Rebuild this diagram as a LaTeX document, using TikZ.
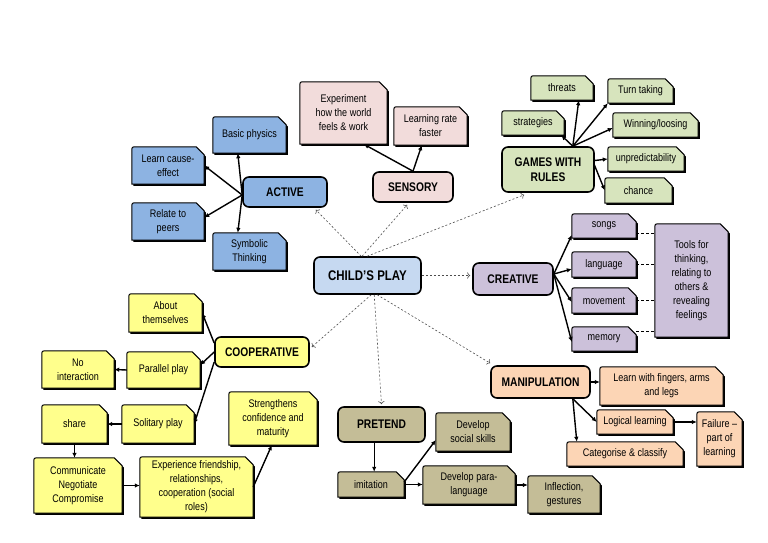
\documentclass[tikz,border=0pt]{standalone}
\usepackage{fontspec}
\setmainfont{Liberation Sans}[FakeStretch=0.82]
\usetikzlibrary{calc,arrows.meta}
\pgfdeclarelayer{background}
\pgfsetlayers{background,main}
\definecolor{cblue}{HTML}{8DB3E2}
\definecolor{clight}{HTML}{C6D9F1}
\definecolor{cpink}{HTML}{F2DCDB}
\definecolor{cgreen}{HTML}{D7E4BD}
\definecolor{cpurple}{HTML}{CCC1DA}
\definecolor{cyellow}{HTML}{FFFF8C}
\definecolor{ctan}{HTML}{C4BD97}
\definecolor{cpeach}{HTML}{FCD5B5}
\tikzset{
  leafnode/.style={inner sep=0pt, align=center, font=\fontsize{11}{14}\selectfont},
  catnode/.style={draw, line width=1.6pt, rounded corners=6pt, inner sep=0pt, align=center, font=\bfseries\fontsize{12.5}{15}\selectfont},
  arr/.style={line width=1.4pt, -{Latex[length=5pt,width=4.5pt]}},
  darr/.style={draw=black!70, line width=0.6pt, dash pattern=on 2pt off 2pt, -{To[length=3pt]}},
  tline/.style={line width=1pt, dash pattern=on 3pt off 2pt},
}
\newcommand\leafshape[2]{($(#1.south west)+(#2)$) -- ($(#1.north west)+(0,5)+(#2)$) .. controls ($(#1.north west)+(#2)$) .. ($(#1.north west)+(5,0)+(#2)$) -- ($(#1.north east)+(-8,0)+(#2)$) -- ($(#1.north east)+(0,8)+(#2)$) -- ($(#1.south east)+(#2)$) -- cycle}
\newcommand\leaf[7]{%
  \node[leafnode, minimum width={#4-#2}, minimum height={#5-#3}] (#1) at ({(#2+#4)/2},{(#3+#5)/2}) {#7};
  \begin{pgfonlayer}{background}
    \fill[black] \leafshape{#1}{1.6,1.6};
    \filldraw[fill=#6, line width=1pt] \leafshape{#1}{0,0};
  \end{pgfonlayer}}
\newcommand\cat[7]{%
  \node[catnode, fill=#6, minimum width={#4-#2}, minimum height={#5-#3}] (#1) at ({(#2+#4)/2},{(#3+#5)/2}) {#7};}
\begin{document}
\begin{tikzpicture}[x=1pt,y=-1pt]
\useasboundingbox (0,0) rectangle (768,543);
% ACTIVE
\leaf{bphys}{213}{117}{286}{153}{cblue}{Basic physics}
\leaf{cause}{132}{147}{204}{184}{cblue}{Learn cause-\\effect}
\leaf{peers}{132}{203}{204}{240}{cblue}{Relate to\\peers}
\leaf{symb}{213}{233}{286}{270}{cblue}{Symbolic\\Thinking}
\cat{active}{243}{177}{327}{207}{cblue}{ACTIVE}
% SENSORY
\leaf{exper}{300}{82}{387}{144}{cpink}{Experiment\\how the world\\feels \& work}
\leaf{lrate}{394}{107}{467}{145}{cpink}{Learning rate\\faster}
\cat{sensory}{373}{172}{453}{202}{cpink}{SENSORY}
% GAMES
\leaf{threats}{531}{76}{593}{100}{cgreen}{threats}
\leaf{turn}{608}{79}{673}{103}{cgreen}{Turn taking}
\leaf{strat}{502}{111}{564}{135}{cgreen}{strategies}
\leaf{win}{613}{113}{698}{137}{cgreen}{Winning/loosing}
\leaf{unpred}{608}{147}{684}{171}{cgreen}{unpredictability}
\leaf{chance}{605}{178}{672}{203}{cgreen}{chance}
\cat{games}{502}{147}{594}{192}{cgreen}{GAMES WITH\\RULES}
% CENTER
\node[catnode, fill=clight, font=\bfseries\fontsize{14}{16}\selectfont, minimum width=107, minimum height=37] (child) at (367.5,275.5) {CHILD'S PLAY};
% CREATIVE
\cat{creative}{473}{263}{553}{295}{cpurple}{CREATIVE}
\leaf{songs}{572}{214}{636}{238}{cpurple}{songs}
\leaf{lang}{572}{252}{636}{277}{cpurple}{language}
\leaf{move}{572}{288}{636}{313}{cpurple}{movement}
\leaf{memo}{572}{327}{636}{351}{cpurple}{memory}
\leaf{tools}{655}{224}{728}{337}{cpurple}{Tools for\\thinking,\\relating to\\others \&\\revealing\\feelings}
% COOPERATIVE
\cat{coop}{215}{337}{309}{367}{cyellow}{COOPERATIVE}
\leaf{about}{129}{294}{202}{332}{cyellow}{About\\themselves}
\leaf{noint}{42}{351}{114}{388}{cyellow}{No\\interaction}
\leaf{par}{127}{352}{200}{388}{cyellow}{Parallel play}
\leaf{share}{42}{405}{107}{443}{cyellow}{share}
\leaf{sol}{122}{405}{194}{443}{cyellow}{Solitary play}
\leaf{streng}{229}{392}{317}{445}{cyellow}{Strengthens\\confidence and\\maturity}
\leaf{comm}{34}{458}{122}{513}{cyellow}{Communicate\\Negotiate\\Compromise}
\leaf{exp}{140}{457}{253}{517}{cyellow}{Experience friendship,\\relationships,\\cooperation (social\\roles)}
% PRETEND
\cat{pretend}{338}{407}{425}{442}{ctan}{PRETEND}
\leaf{social}{436}{413}{510}{451}{ctan}{Develop\\social skills}
\leaf{imit}{338}{472}{404}{497}{ctan}{imitation}
\leaf{para}{423}{466}{515}{504}{ctan}{Develop para-\\language}
\leaf{infl}{528}{476}{600}{513}{ctan}{Inflection,\\gestures}
% MANIPULATION
\cat{manip}{491}{366}{590}{398}{cpeach}{MANIPULATION}
\leaf{fingers}{600}{367}{723}{405}{cpeach}{Learn with fingers, arms\\and legs}
\leaf{logical}{597}{410}{673}{434}{cpeach}{Logical learning}
\leaf{categ}{567}{442}{683}{466}{cpeach}{Categorise \& classify}
\leaf{failure}{697}{412}{742}{466}{cpeach}{Failure --\\part of\\learning}

% solid arrows: ACTIVE
\coordinate (aO) at ($(active.west)+(0,3)$);
\draw[arr] (aO) -- ($(bphys.south west)+(25,0)$);
\draw[arr] (aO) -- (cause.east);
\draw[arr] (aO) -- ($(peers.east)+(0,-4)$);
\draw[arr] (aO) -- ($(symb.north west)+(25,0)$);
% SENSORY
\draw[arr] (sensory.north) -- ($(exper.south west)+(64,0)$);
\draw[arr] (sensory.north) -- ($(lrate.south west)+(28,0)$);
% GAMES
\coordinate (gO) at ($(games.north east)+(-22,0)$);
\draw[arr] (gO) -- ($(threats.south west)+(48,0)$);
\draw[arr] (gO) -- ($(strat.south east)+(-3,0)$);
\draw[arr] (gO) -- (turn.south west);
\draw[arr] (gO) -- ($(win.west)+(0,3)$);
\draw[arr] ($(games.east)+(0,-9)$) -- (unpred.west);
\draw[arr] ($(games.east)+(-1,-6)$) -- (chance.west);
% CREATIVE
\coordinate (cO) at ($(creative.east)+(0,-5)$);
\draw[arr] (cO) -- ($(songs.west)+(0,9)$);
\draw[arr] (cO) -- ($(lang.west)+(0,4.5)$);
\draw[arr] (cO) -- ($(move.west)+(0,1.5)$);
\draw[arr] (cO) -- ($(memo.west)+(0,3)$);
\coordinate (t1) at ($(songs.east)+(0,7)$);
\coordinate (t4) at ($(memo.east)+(0,-8)$);
\draw[tline] (t1) -- (t1 -| tools.west);
\draw[tline] (lang.east) -- (lang.east -| tools.west);
\draw[tline] (move.east) -- (move.east -| tools.west);
\draw[tline] (t4) -- (t4 -| tools.west);
% COOPERATIVE
\draw[arr] ($(coop.west)+(0,-9)$) -- (about.east);
\draw[arr] (coop.west) -- ($(par.east)+(0,-5)$);
\draw[arr] ($(coop.west)+(0,10)$) -- (sol.east);
\draw[arr] (par.west) -- (noint.east);
\draw[arr] (sol.west) -- (share.east);
\draw[arr] (share.south) -- (share.south |- comm.north);
\draw[arr] (comm.east) -- (comm.east -| exp.west);
\draw[arr] (exp.east) -- ($(streng.south west)+(43,0)$);
% PRETEND
\coordinate (pO) at ($(pretend.south west)+(37,0)$);
\draw[arr] (pO) -- (pO |- imit.north);
\draw[arr] ($(imit.east)+(0,-2.5)$) -- ($(social.west)+(0,8)$);
\draw[arr] (imit.east) -- (imit.east -| para.west);
\draw[arr] (para.east) -- (para.east -| infl.west);
% MANIPULATION
\coordinate (mO) at ($(manip.south east)+(-18,0)$);
\draw[arr] (manip.east) -- (manip.east -| fingers.west);
\draw[arr] (mO) -- (logical.west);
\draw[arr] (mO) -- ($(categ.north west)+(10,0)$);
\draw[arr] (logical.east) -- (logical.east -| failure.west);
% dashed from CHILD'S PLAY
\draw[darr] ($(child.north west)+(48,0)$) -- ($(active.south east)+(-12,2)$);
\draw[darr] ($(child.north west)+(49,0)$) -- ($(sensory.south west)+(35,2)$);
\draw[darr] ($(child.north west)+(54,0)$) -- ($(games.south west)+(23,2)$);
\draw[darr] (child.east) -- ($(child.east -| creative.west)+(-2,0)$);
\draw[darr] ($(child.south west)+(58,0)$) -- ($(coop.east)+(2,-5)$);
\draw[darr] ($(child.south west)+(61,0)$) -- ($(pretend.north)+(0,-2)$);
\draw[darr] ($(child.south west)+(64,0)$) -- ($(manip.north west)+(0,-2)$);
\end{tikzpicture}
\end{document}
